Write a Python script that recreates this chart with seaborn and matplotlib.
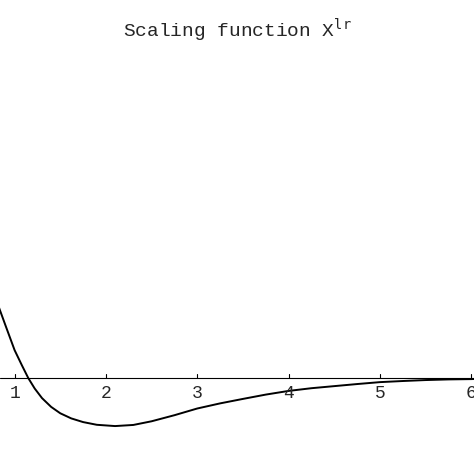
import seaborn as sns
import matplotlib.pyplot as plt

# points
x_vals = [0.83, 0.9, 1.0, 1.08, 1.15, 1.22, 1.3, 1.4, 1.5, 1.62, 1.75, 1.9, 2.1, 2.3, 2.5, 2.75, 3.0, 3.25, 3.5, 3.75, 4.0, 4.25, 4.5, 4.75, 5.0, 5.25, 5.5, 5.75, 6.0, 6.05]
y_vals = [0.44, 0.33, 0.175, 0.08, 0.0, -0.065, -0.125, -0.18, -0.22, -0.252, -0.275, -0.292, -0.30, -0.293, -0.27, -0.232, -0.19, -0.158, -0.13, -0.103, -0.08, -0.063, -0.05, -0.037, -0.025, -0.018, -0.012, -0.008, -0.006, -0.005]
xticks = [1, 2, 3, 4, 5, 6]

sns.set_style("white")
fig = plt.figure(figsize=(4.74, 4.74), dpi=100)
ax = fig.add_axes([0, 0, 1, 0.873])
sns.lineplot(x=x_vals, y=y_vals, color="black", lw=1.4, ax=ax)
ax.set_xlim(0.84, 6.03)
ax.set_ylim(-0.6, 1.99)
for s in ax.spines.values():
    s.set_visible(False)
ax.axhline(0, color="black", lw=0.8)
ax.set_yticks([])
ax.set_xticks([])
for t in xticks:
    ax.plot([t, t], [0, 0.025], color="black", lw=0.8)
    ax.text(t, -0.04, str(t), ha="center", va="top", fontsize=13, family="Liberation Mono")
fig.text(0.5, 0.935, r"Scaling function X$^{\mathtt{lr}}$", ha="center", va="center",
         fontsize=14, family="Liberation Mono")
fig.savefig("out.png", dpi=100)
